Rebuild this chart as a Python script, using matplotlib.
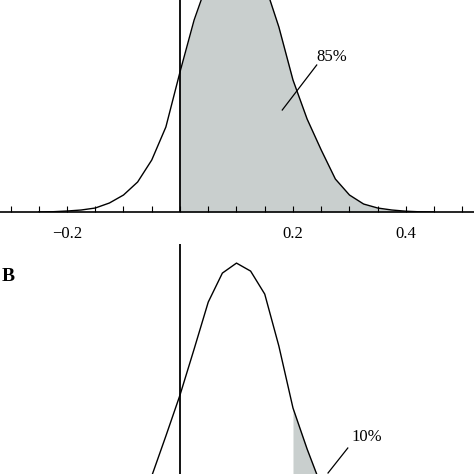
import numpy as np
import matplotlib.pyplot as plt
from matplotlib.ticker import MultipleLocator

plt.rcParams['font.family'] = ['Liberation Serif', 'DejaVu Serif']

# panel A density (arbitrary height units)
top_x = [-0.25, -0.225, -0.2, -0.175, -0.15, -0.125, -0.1, -0.075, -0.05, -0.025, 0.0,
         0.025, 0.05, 0.075, 0.1, 0.125, 0.15, 0.175, 0.2, 0.225, 0.25, 0.275, 0.3,
         0.325, 0.35, 0.375, 0.4, 0.425, 0.45]
top_y = [0, 0.3, 1, 2, 4, 9, 17, 30, 52, 85, 140,
         192, 232, 256, 265, 258, 228, 185, 132, 93, 62, 33, 17,
         8, 4, 2, 0.8, 0.2, 0]
top_cut = 0.0
top_label = '85%'

# panel B density
bot_x = [-0.075, -0.05, -0.025, 0.0, 0.025, 0.05, 0.075, 0.1, 0.125, 0.15, 0.175, 0.2, 0.225, 0.25, 0.275]
bot_y = [-40, -2, 38, 79, 125, 172, 201, 211, 203, 180, 128, 66, 25, -12, -45]
bot_cut = 0.2
bot_label = '10%'

tick_labels = [-0.2, 0.2, 0.4]

fill = '#c9cfce'
xlim = (-0.3186, 0.5204)

fig = plt.figure(figsize=(4.74, 4.74), dpi=100)

# top panel
ax1 = fig.add_axes([0, 0.5527, 1, 0.4473])
tx = np.array(top_x); ty = np.array(top_y)
ax1.fill_between(tx, 0, ty, where=tx >= top_cut, color=fill, lw=0)
ax1.plot(tx, ty, color='black', lw=1)
ax1.axvline(top_cut, color='black', lw=1.3)
ax1.set_xlim(*xlim)
ax1.set_ylim(0, 212)
for s in ['top', 'left', 'right']:
    ax1.spines[s].set_visible(False)
ax1.spines['bottom'].set_linewidth(1.2)
ax1.set_yticks([])
ax1.set_xticks(tick_labels)
ax1.set_xticklabels(['\u22120.2', '0.2', '0.4'], fontsize=12)
ax1.xaxis.set_minor_locator(MultipleLocator(0.05))
ax1.tick_params(axis='x', which='both', direction='in', length=4, width=0.8, pad=10)
ax1.text(0.269, 155, top_label, fontsize=12, ha='center', va='center')
ax1.plot([0.242, 0.181], [147, 102], color='black', lw=0.9)

# bottom panel
ax2 = fig.add_axes([0, 0, 1, 0.485])
bx = np.array(bot_x); by = np.array(bot_y)
ax2.fill_between(bx, 0, by, where=bx >= bot_cut, color=fill, lw=0)
ax2.plot(bx, by, color='black', lw=1)
ax2.axvline(0, color='black', lw=1.3)
ax2.set_xlim(*xlim)
ax2.set_ylim(0, 230)
ax2.axis('off')
ax2.text(0.331, 37, bot_label, fontsize=12, ha='center', va='center')
ax2.plot([0.297, 0.262], [26, 1], color='black', lw=0.9)

fig.text(0.003, 0.416, 'B', fontsize=14, fontweight='bold', ha='left', va='center')

fig.savefig('out.png', dpi=100)
